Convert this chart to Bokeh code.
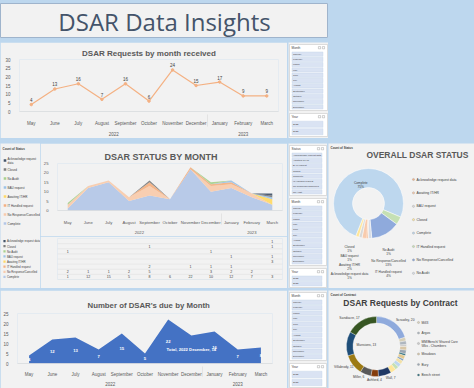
import numpy as np
from bokeh.plotting import figure
from bokeh.models import (ColumnDataSource, FactorRange, Range1d, LabelSet, FixedTicker)
from bokeh.layouts import row, column
from bokeh.core.properties import value
from bokeh.embed import file_html
from bokeh.resources import INLINE

# ---------------- data ----------------
years = ["2022", "2022", "2022", "2022", "2022", "2022", "2022", "2022", "2023", "2023", "2023"]
months = ["May", "June", "July", "August", "September", "October", "November",
          "December", "January", "February", "March"]

received = [4, 13, 16, 7, 16, 6, 24, 15, 17, 9, 9]
received_ticks = [0, 5, 10, 15, 20, 25, 30]

status_stack = ["Complete", "No Response/Cancelled", "IT Handled request", "Awaiting IT/HR",
                "BAU request", "No Audit", "Closed", "Acknowledge request data"]
complete = [1, 12, 15, 5, 8, 6, 22, 10, 12, 7, 3]
no_response = [2, 1, 1, 2, 5, 0, 0, 3, 2, 2, 0]
it_handled = [0, 0, 0, 0, 2, 0, 1, 1, 1, 0, 0]
awaiting = [0, 0, 0, 0, 0, 0, 0, 0, 0, 0, 3]
bau = [0, 0, 0, 0, 0, 0, 0, 0, 1, 0, 1]
no_audit = [1, 0, 0, 0, 0, 0, 0, 1, 0, 0, 0]
closed = [0, 0, 0, 0, 1, 0, 0, 0, 0, 0, 1]
acknowledge = [0, 0, 0, 0, 0, 0, 0, 0, 0, 0, 1]
status_ticks = [0, 5, 10, 15, 20, 25]
status_colors = ["#b4c7e7", "#f8cbad", "#f4b183", "#ffd966", "#9dc3e6", "#a9d18e", "#7f7f7f", "#44546a"]

pie_status = ["Acknowledge request data", "Awaiting IT/HR", "BAU request", "Closed", "Complete",
              "IT Handled request", "No Response/Cancelled", "No Audit"]
pie_colors = ["#f4b183", "#f8cbad", "#d9d9d9", "#ffe699", "#bdd7ee", "#c5e0b4", "#8faadc", "#d6dce5"]

due = [4, 12, 13, 7, 15, 5, 22, 14, 16, 7, 8]
due_ticks = [0, 5, 10, 15, 20, 25]

contracts = ["Scrawley", "Mill3", "Argos", "MM/Bench/ Shared Care\nWks - Chambers", "Meadows", "Bury",
             "Beech street", "Ashby", "Dovecote", "Elmfield", "Hale", "Kingsway", "Oakfield",
             "Wall", "Ashford", "Miller", "Villabrody", "Mansions", "Sandiacre"]
contract_counts = [20, 2, 2, 1, 2, 2, 1, 2, 1, 2, 2, 2, 3, 7, 4, 6, 11, 13, 17]
contract_colors = ["#8faadc", "#d6cfb8", "#aeb6bf", "#c9c9c9", "#d9c7a7", "#9aa6b2", "#2f6f7e",
                   "#e2c88f", "#7f9fbf", "#f2e0a8", "#bdd7ee", "#c5e0b4", "#ffe699",
                   "#203864", "#843c0c", "#595959", "#9c7a14", "#1f4e79", "#375623"]

slicer_months = ["January", "February", "March", "May", "June", "July", "August",
                 "September", "October", "November", "December"]
slicer_years = ["2022", "2023"]
slicer_status = ["Acknowledge request data", "Awaiting IT/HR", "BAU request", "Closed", "Complete",
                 "IT Handled request", "No Response/Cancelled", "No Audit"]

# ---------------- helpers ----------------
FONT = "Liberation Sans"
PANEL = "#f2f2f2"
BLUE_BG = "#bdd7ee"
TXT = "#595959"
DARK = "#404040"

factors = list(zip(years, months))


def make_fig(w, h, **kw):
    p = figure(width=w, height=h, toolbar_location=None, output_backend="svg", **kw)
    p.background_fill_color = PANEL
    p.border_fill_color = PANEL
    p.outline_line_color = None
    p.grid.visible = False
    return p


def unit_fig(w, h, x0, y_top, flip=False):
    # 1 data unit = 1 pixel
    yr = Range1d(h, 0) if flip else Range1d(y_top - h, y_top)
    p = figure(frame_width=w, frame_height=h, toolbar_location=None, output_backend="svg",
               x_range=Range1d(x0, x0 + w), y_range=yr, min_border=0,
               x_axis_location=None, y_axis_location=None)
    p.background_fill_color = PANEL
    p.border_fill_color = PANEL
    p.outline_line_color = None
    p.grid.visible = False
    return p


def boxed(p):
    # wrap so that frames are not aligned with neighbouring plots
    return column(p, spacing=0)


def style_axes(p, ticks, fs="4.5px"):
    xa = p.xaxis[0]
    xa.major_label_text_font = FONT
    xa.major_label_text_font_size = fs
    xa.major_label_text_color = TXT
    xa.group_text_font = FONT
    xa.group_text_font_size = fs
    xa.group_text_color = TXT
    xa.group_text_font_style = "normal"
    xa.axis_line_color = "#d9d9d9"
    xa.axis_line_width = 0.6
    xa.major_tick_line_color = None
    xa.minor_tick_line_color = None
    xa.separator_line_color = "#d9d9d9"
    xa.separator_line_width = 0.6
    xa.major_label_standoff = 3
    ya = p.yaxis[0]
    ya.ticker = FixedTicker(ticks=ticks)
    ya.axis_line_color = None
    ya.major_tick_line_color = None
    ya.minor_tick_line_color = None
    ya.major_label_text_font = FONT
    ya.major_label_text_font_size = fs
    ya.major_label_text_color = TXT
    ya.major_label_standoff = 3


def style_title(p, text, size, standoff=3, offset=0, align="center", bold=True):
    p.title.text = text
    p.title.align = align
    p.title.text_font = FONT
    p.title.text_font_size = size
    p.title.text_font_style = "bold" if bold else "normal"
    p.title.text_color = TXT
    p.title.standoff = standoff
    p.title.offset = offset


def slicer(w, h, boxes):
    p = unit_fig(w, h, 0, 0, flip=True)
    for title, items, top, bottom in boxes:
        p.quad(left=[1], right=[w - 1], top=[top], bottom=[bottom], fill_color="white",
               line_color="#bfbfbf", line_width=0.5)
        p.text(x=[3], y=[top + 3.2], text=[title], text_font=value(FONT), text_font_size="3.2px",
               text_color=DARK, text_baseline="middle")
        p.scatter(x=[w - 9, w - 5], y=[top + 3.2] * 2, marker="square", size=2.2,
                  fill_color=None, line_color="#8c8c8c", line_width=0.4)
        n = len(items)
        step = (bottom - top - 8) / n
        ys = [top + 7 + step * (i + 0.5) for i in range(n)]
        p.rect(x=[w / 2 - 1] * n, y=ys, width=w - 9, height=step * 0.82, fill_color="#dae3f3",
               line_color="#c3d3e9", line_width=0.4)
        p.text(x=[4.5] * n, y=ys, text=items, text_font=value(FONT), text_font_size="2.4px",
               text_color=DARK, text_baseline="middle")
    return p


# ---------------- title box ----------------
pt = unit_fig(328, 35, 0, 0, flip=True)
pt.outline_line_color = "#9fb4cc"
pt.outline_line_width = 1
pt.text(x=[164], y=[17.5], text=["DSAR Data Insights"], text_align="center", text_baseline="middle",
        text_font=value("Open Sans"), text_font_size="24px", text_color="#44546a")
pt.margin = (3, 0, 0, 0)

# ---------------- panel 1: line chart ----------------
xr1 = FactorRange(*factors, range_padding=0, group_padding=0, factor_padding=0)
p1 = make_fig(287, 96, x_range=xr1, y_range=Range1d(0, 30), min_border_left=19,
              min_border_right=9, min_border_top=17, min_border_bottom=18)
style_title(p1, "DSAR Requests by month received", "8px", standoff=3)
style_axes(p1, received_ticks)
src1 = ColumnDataSource(dict(x=factors, y=received, t=[str(v) for v in received]))
p1.line("x", "y", source=src1, line_color="#f4b183", line_width=1.2)
p1.scatter("x", "y", source=src1, size=2.5, fill_color="#f4b183", line_color="#f4b183")
p1.text("x", "y", text="t", source=src1, y_offset=-2.5, text_align="center", text_baseline="bottom",
        text_font=value(FONT), text_font_size="4.5px", text_color=DARK)

s1 = slicer(40, 96, [("Month", slicer_months, 2, 68), ("Year", slicer_years, 71, 94)])

# ---------------- panel 2: stacked area + table ----------------
series = dict(zip(status_stack, [complete, no_response, it_handled, awaiting, bau, no_audit,
                                 closed, acknowledge]))
color_of = dict(zip(status_stack, status_colors))
keys = ["s%d" % i for i in range(len(status_stack))]
xr2 = FactorRange(*factors, range_padding=0, group_padding=0, factor_padding=0)
p2 = make_fig(247, 93, x_range=xr2, y_range=Range1d(0, 25), min_border_left=10,
              min_border_right=5, min_border_top=20, min_border_bottom=14)
style_title(p2, "DSAR STATUS BY MONTH", "9px", standoff=4, offset=47, align="left")
style_axes(p2, status_ticks, fs="4.2px")
src2 = ColumnDataSource(dict(x=factors, **{k: series[n] for k, n in zip(keys, status_stack)}))
p2.varea_stack(stackers=keys, x="x", source=src2, color=status_colors, fill_alpha=0.95)

p3 = make_fig(247, 52, x_range=xr2, y_range=FactorRange(*status_stack), min_border_left=10,
              min_border_right=5, min_border_top=2, min_border_bottom=9,
              x_axis_location=None, y_axis_location=None)
tx, ty, tt = [], [], []
for n in status_stack:
    for f, v in zip(factors, series[n]):
        if v > 0:
            tx.append(f)
            ty.append(n)
            tt.append(str(v))
nrow = len(status_stack)
p3.segment(x0=[0] * nrow, x1=[len(factors)] * nrow, y0=list(range(nrow)), y1=list(range(nrow)),
           line_color="#dcdcdc", line_width=0.5)
p3.text(x=tx, y=ty, text=tt, text_align="center", text_baseline="middle", text_font=value(FONT),
        text_font_size="3.6px", text_color=DARK)

# left strip: legend of the area chart + row headers of the table
pl = unit_fig(40, 145, 0, 0, flip=True)
legend_order = status_stack[::-1]
leg_text = [n.replace("Acknowledge request data", "Acknowledge request\ndata") for n in legend_order]
leg_y = [17 + 9 * i for i in range(nrow)]
pl.rect(x=[4.5] * nrow, y=leg_y, width=2.6, height=2.6, fill_color=[color_of[n] for n in legend_order],
        line_color=None)
pl.text(x=[7] * nrow, y=leg_y, text=leg_text, text_baseline="middle", text_font=value(FONT),
        text_font_size="3px", text_color=DARK, text_line_height=1.1)
pl.text(x=[2], y=[5], text=["Count of Status"], text_baseline="middle", text_font=value(FONT),
        text_font_size="3px", text_color=DARK, text_font_style="bold")
tab_y = [95 + 5.125 * (i + 0.5) for i in range(nrow)]
pl.rect(x=[4] * nrow, y=tab_y, width=2.2, height=2.2, fill_color=[color_of[n] for n in legend_order],
        line_color=None)
pl.text(x=[6.5] * nrow, y=tab_y, text=legend_order, text_baseline="middle", text_font=value(FONT),
        text_font_size="2.8px", text_color=DARK)

s2 = slicer(39, 145, [("Status", slicer_status, 2, 52), ("Month", slicer_months, 55, 122),
                      ("Year", slicer_years, 125, 144)])

# ---------------- panel 2 right: overall donut ----------------
p5 = unit_fig(146, 145, -40, 60)
pie_counts = np.array([sum(series[n]) for n in pie_status], dtype=float)
frac = pie_counts / pie_counts.sum()
cum = np.concatenate([[0.0], np.cumsum(frac)])
start_cw = 180 + cum[:-1] * 360
end_cw = 180 + cum[1:] * 360
mid_cw = (start_cw + end_cw) / 2
src5 = ColumnDataSource(dict(start=np.pi / 2 - np.radians(start_cw), end=np.pi / 2 - np.radians(end_cw),
                             color=pie_colors))
p5.annular_wedge(x=0, y=0, inner_radius=16, outer_radius=35, start_angle="start", end_angle="end",
                 direction="clock", fill_color="color", line_color="white", line_width=0.5, source=src5)
pct = np.round(frac * 100).astype(int)
big = int(np.argmax(frac))
mids = mid_cw % 360
lx, ly, lt = [], [], []
lx.append(20 * np.sin(np.radians(mids[big])))
ly.append(20 * np.cos(np.radians(mids[big])))
lt.append("%s\n%d%%" % (pie_status[big], pct[big]))
left_i = sorted([i for i in range(len(pie_status)) if i != big and mids[i] > 180], key=lambda i: -mids[i])
right_i = sorted([i for i in range(len(pie_status)) if i != big and mids[i] <= 180], key=lambda i: -mids[i])
for k, i in enumerate(left_i):
    lx.append(-19)
    ly.append(-45 - 9 * k)
    lt.append("%s\n%d%%" % (pie_status[i], pct[i]))
for k, i in enumerate(right_i):
    lx.append(20)
    ly.append(-48 - 11 * k)
    lt.append("%s\n%d%%" % (pie_status[i], pct[i]))
p5.text(x=lx, y=ly, text=lt, text_align="center", text_baseline="middle", text_font=value(FONT),
        text_font_size="3.2px", text_color=DARK, text_line_height=1.1)
p5.text(x=[49], y=[49], text=["OVERALL DSAR STATUS"], text_align="center", text_baseline="middle",
        text_font=value(FONT), text_font_size="8.5px", text_font_style="bold", text_color=TXT)
p5.text(x=[-38], y=[56], text=["Count of Status"], text_baseline="middle", text_font=value(FONT),
        text_font_size="3px", text_color=DARK, text_font_style="bold")
pl_y = [24 - 13.4 * i for i in range(len(pie_status))]
p5.scatter(x=[45] * len(pie_status), y=pl_y, size=2.2, fill_color=pie_colors, line_color="#8c8c8c",
           line_width=0.3)
p5.text(x=[48] * len(pie_status), y=pl_y, text=pie_status, text_baseline="middle",
        text_font=value(FONT), text_font_size="3.4px", text_color=DARK)

# ---------------- panel 3: due area chart ----------------
xr4 = FactorRange(*factors, range_padding=0, group_padding=0, factor_padding=0)
p4 = make_fig(287, 98, x_range=xr4, y_range=Range1d(0, 25), min_border_left=13,
              min_border_right=15, min_border_top=23, min_border_bottom=22)
style_title(p4, "Number of DSAR's due by Month", "7.8px", standoff=7, offset=70, align="left")
style_axes(p4, due_ticks)
p4.xaxis[0].major_label_standoff = 2
due_labels = [str(v) for v in due]
dec = months.index("December")
due_labels[dec] = "Total, %s %s, %d" % (years[dec], months[dec], due[dec])
src4 = ColumnDataSource(dict(x=factors, y=due, mid=list(np.array(due) / 2.0), t=due_labels))
p4.varea(x="x", y1=0, y2="y", source=src4, fill_color="#4472c4")
p4.text(x="x", y="mid", text="t", source=src4, text_color="white", text_font_size="4.2px",
        text_font_style="bold", text_align="center", text_baseline="middle", text_font=value(FONT))
tot_src = ColumnDataSource(dict(x=[len(factors)], y=[10], k=["■"], t=["Total"]))
p4.add_layout(LabelSet(x="x", y="y", text="k", source=tot_src, x_offset=2, text_font=value(FONT),
                       text_font_size="3.6px", text_color="#4472c4", text_baseline="middle"))
p4.add_layout(LabelSet(x="x", y="y", text="t", source=tot_src, x_offset=5.5, text_font=value(FONT),
                       text_font_size="3.2px", text_color=DARK, text_baseline="middle"))

s3 = slicer(39, 98, [("Month", slicer_months, 2, 70), ("Year", slicer_years, 73, 97)])

# ---------------- panel 3 right: contract donut ----------------
p6 = unit_fig(146, 98, -48, 56)
cc = np.array(contract_counts, dtype=float)
cf = cc / cc.sum()
ccum = np.concatenate([[0.0], np.cumsum(cf)])
c_start = ccum[:-1] * 360
c_end = ccum[1:] * 360
c_mid = (c_start + c_end) / 2
src6 = ColumnDataSource(dict(start=np.pi / 2 - np.radians(c_start), end=np.pi / 2 - np.radians(c_end),
                             color=contract_colors))
p6.annular_wedge(x=0, y=0, inner_radius=23.5, outer_radius=30, start_angle="start", end_angle="end",
                 direction="clock", fill_color="color", line_color="white", line_width=0.3, source=src6)
cx, cy, ct, ca = [], [], [], []
fs_lab = 3.3
for i, v in enumerate(contract_counts):
    if v < 4:
        continue
    s, c = np.sin(np.radians(c_mid[i])), np.cos(np.radians(c_mid[i]))
    txt = "%s, %d" % (contracts[i], v)
    wtxt = len(txt) * 0.52 * fs_lab
    if abs(s) > 0.85:
        x, y, a = 20 * s, 20 * c, ("left" if s < 0 else "right")
    else:
        x, y = 33 * s, 33 * c
        a = "right" if s < -0.15 else ("left" if s > 0.15 else "center")
        if a == "right":
            x = max(x, -47 + wtxt)
    cx.append(x)
    cy.append(y)
    ca.append(a)
    ct.append(txt)
p6.text(x=cx, y=cy, text=ct, text_align=ca, text_baseline="middle", text_font=value(FONT),
        text_font_size="%.1fpx" % fs_lab, text_color=DARK)
p6.text(x=[24], y=[44], text=["DSAR Requests by Contract"], text_align="center",
        text_baseline="middle", text_font=value(FONT), text_font_size="8.5px",
        text_font_style="bold", text_color=DARK)
p6.text(x=[-46], y=[52], text=["Count of Contract"], text_baseline="middle", text_font=value(FONT),
        text_font_size="3px", text_color=DARK, text_font_style="bold")
leg_names = contracts[1:7]
leg_cols = contract_colors[1:7]
cl_y = [24 - 10.5 * i for i in range(len(leg_names))]
p6.scatter(x=[42] * len(leg_names), y=cl_y, size=2.2, fill_color=leg_cols, line_color="#8c8c8c",
           line_width=0.3)
p6.text(x=[45] * len(leg_names), y=cl_y, text=leg_names, text_baseline="middle", text_line_height=1.1,
        text_font=value(FONT), text_font_size="3.3px", text_color=DARK)

# ---------------- layout ----------------
r1 = row(boxed(p1), boxed(s1), spacing=1)
r1.margin = (4, 0, 0, 0)
r2 = row(row(boxed(pl), column(p2, p3, spacing=0), spacing=0), boxed(s2), boxed(p5), spacing=1)
r2.margin = (5, 0, 0, 0)
r3 = row(boxed(p4), boxed(s3), boxed(p6), spacing=1)
r3.margin = (2, 0, 0, 0)
root = column(boxed(pt), r1, r2, r3, spacing=0, styles={"background-color": BLUE_BG})

open("out.html", "w").write(file_html(root, INLINE))
